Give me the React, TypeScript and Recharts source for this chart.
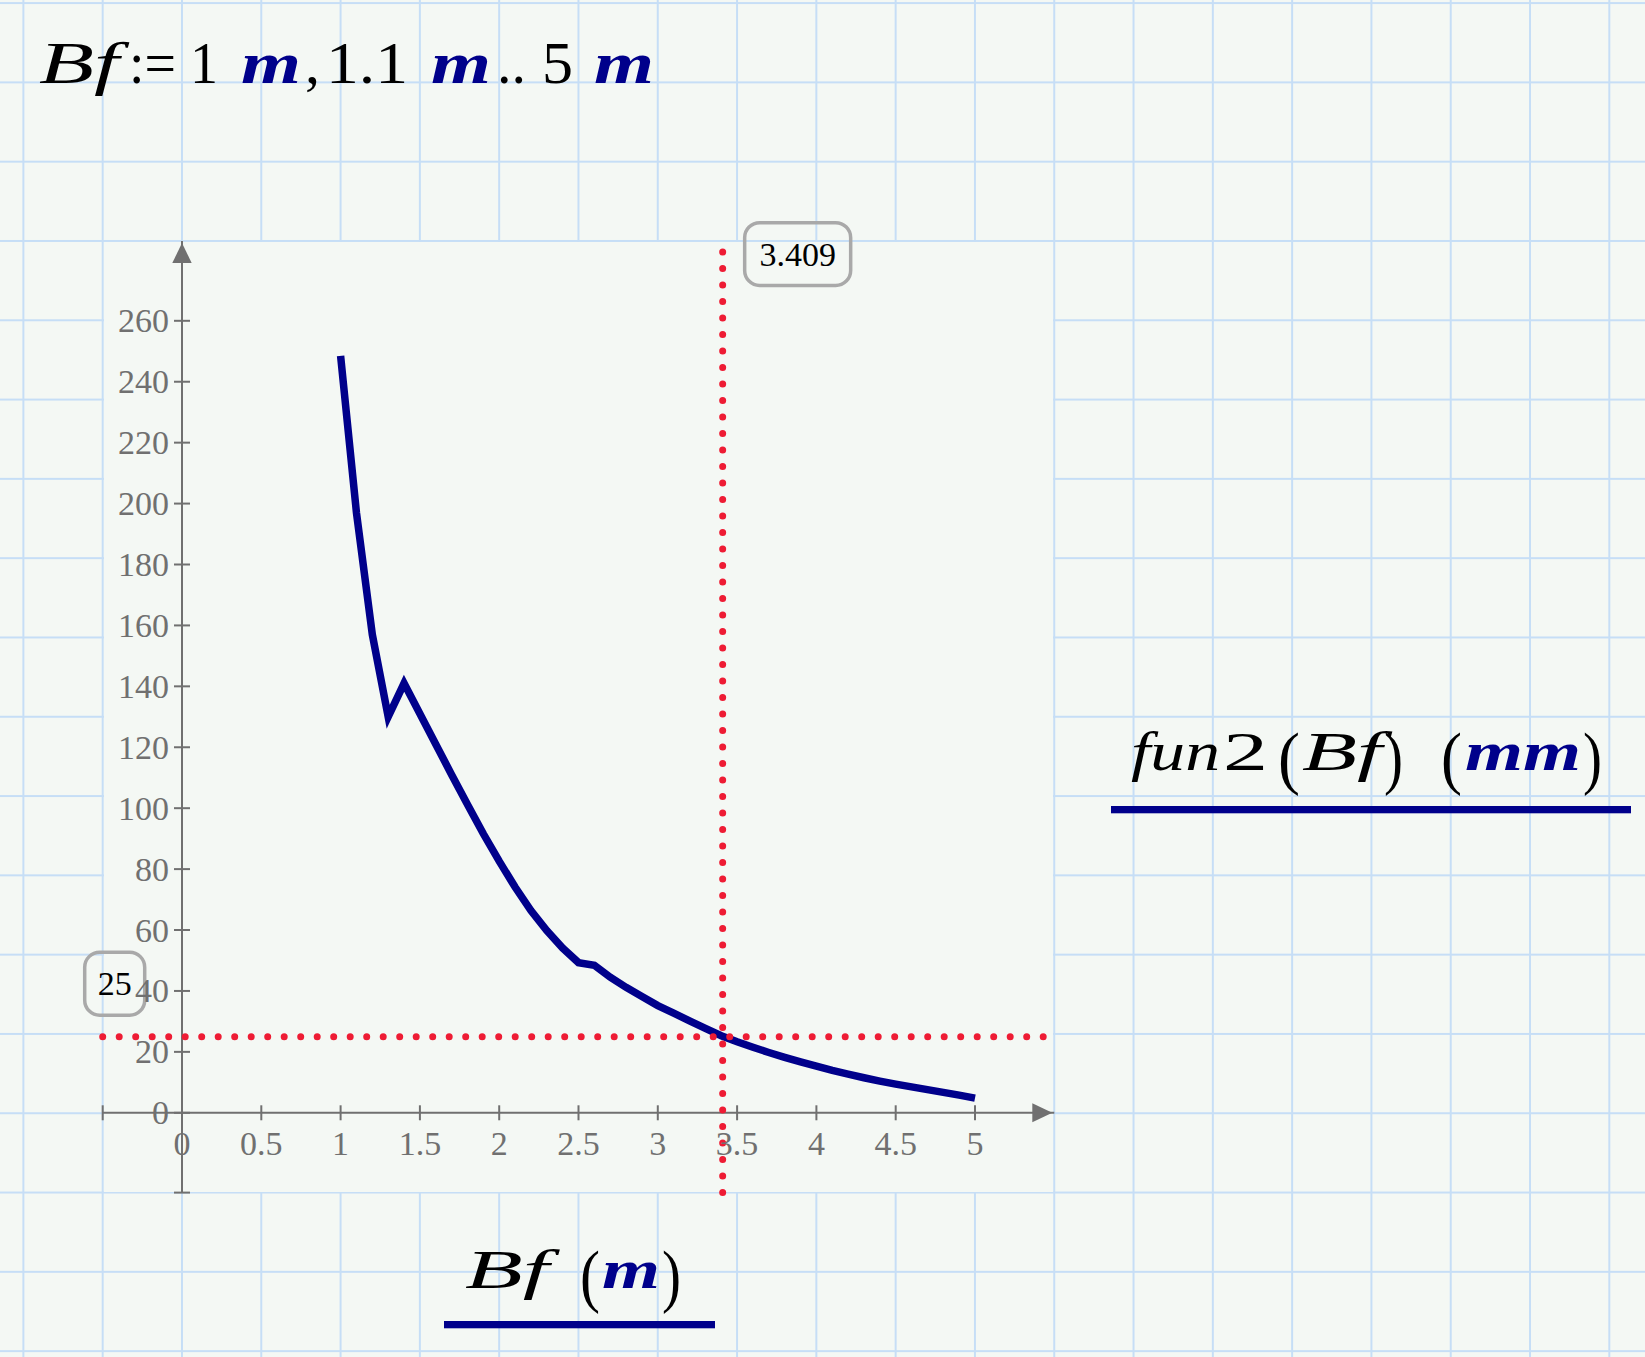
import React from 'react';
import { LineChart, Line, XAxis, YAxis, ReferenceLine, ReferenceDot } from 'recharts';

// ---- data ----
const bfValues = [
  1.0, 1.1, 1.2, 1.3, 1.4, 1.5, 1.6, 1.7, 1.8, 1.9,
  2.0, 2.1, 2.2, 2.3, 2.4, 2.5, 2.6, 2.7, 2.8, 2.9,
  3.0, 3.1, 3.2, 3.3, 3.4, 3.5, 3.6, 3.7, 3.8, 3.9,
  4.0, 4.1, 4.2, 4.3, 4.4, 4.5, 4.6, 4.7, 4.8, 4.9, 5.0,
];
const fun2Values = [
  248.5, 197, 157, 130, 141, 131, 121, 111, 101.2, 91.6,
  82.6, 74.1, 66.4, 59.8, 54.1, 49.3, 48.4, 44.5, 41.2, 38.2,
  35.2, 32.7, 30.2, 27.7, 25.3, 23.3, 21.5, 19.8, 18.2, 16.7,
  15.3, 13.9, 12.7, 11.5, 10.4, 9.4, 8.5, 7.6, 6.7, 5.8, 4.8,
];
const xTicks = [-0.5, 0, 0.5, 1, 1.5, 2, 2.5, 3, 3.5, 4, 4.5, 5];
const yTicks = [-26.2, 0, 20, 40, 60, 80, 100, 120, 140, 160, 180, 200, 220, 240, 260];
const xDomain: [number, number] = [-0.5, 5.5];
const yDomain: [number, number] = [-26.2, 286.2];
const markerX = 3.409;
const markerY = 25;

const data = bfValues.map((x, i) => ({ x, y: fun2Values[i] }));

// ---- layout / style ----
const W = 1645;
const H = 1357;
const PLOT_L = 102.7;
const PLOT_T = 241;
const PLOT_SIZE = 951.6;
const CELL = 79.3;
const BG = '#f4f8f4';
const GRID = '#c6def6';
const AXIS = '#707070';
const NAVY = '#00008b';
const RED = '#ee1c34';
const FONT = '"Liberation Serif", "Times New Roman", serif';

const xZeroOffset = (PLOT_SIZE * (0 - xDomain[0])) / (xDomain[1] - xDomain[0]);
const yZeroOffset = (PLOT_SIZE * (0 - yDomain[0])) / (yDomain[1] - yDomain[0]);

const renderXTick = (props: any) => {
  const { x, y, payload } = props;
  const yz = y - yZeroOffset;
  const isEnd = payload.value === xDomain[0];
  return (
    <g>
      <line x1={x} x2={x} y1={yz - 7.5} y2={yz + 7.5} stroke={AXIS} strokeWidth={2} />
      {!isEnd && (
        <text x={x} y={yz + 42.5} textAnchor="middle" fontFamily={FONT} fontSize={34} fill={AXIS}>
          {String(payload.value)}
        </text>
      )}
    </g>
  );
};

const renderYTick = (props: any) => {
  const { x, y, payload } = props;
  const xz = x + xZeroOffset;
  const isEnd = payload.value === yDomain[0];
  return (
    <g>
      <line x1={xz - 8} x2={xz + 8} y1={y} y2={y} stroke={AXIS} strokeWidth={2} />
      {!isEnd && (
        <text x={xz - 13} y={y + 11.5} textAnchor="end" fontFamily={FONT} fontSize={34} fill={AXIS}>
          {String(payload.value)}
        </text>
      )}
    </g>
  );
};

const XArrow = (props: any) => {
  const { cx, cy } = props;
  return <polygon points={`${cx - 2},${cy} ${cx - 22},${cy - 9.5} ${cx - 22},${cy + 9.5}`} fill={AXIS} />;
};
const YArrow = (props: any) => {
  const { cx, cy } = props;
  return <polygon points={`${cx},${cy + 2} ${cx - 9.7},${cy + 22} ${cx + 9.7},${cy + 22}`} fill={AXIS} />;
};

const markerXLabel = (props: any) => {
  const vb = props.viewBox || {};
  const lx = vb.x ?? 0;
  const top = vb.y ?? PLOT_T;
  return (
    <g>
      <rect x={lx + 22} y={top - 18.3} width={106} height={62.7} rx={15} ry={15} fill="none" stroke="#a9a9a9" strokeWidth={3.5} />
      <text x={lx + 75} y={top + 24.5} textAnchor="middle" fontFamily={FONT} fontSize={34} fill="#000">
        {markerX.toFixed(3)}
      </text>
    </g>
  );
};

const markerYLabel = (props: any) => {
  const vb = props.viewBox || {};
  const left = vb.x ?? PLOT_L;
  const ly = vb.y ?? 0;
  return (
    <g>
      <rect x={left - 18} y={ly - 84.4} width={60} height={63} rx={15} ry={15} fill="none" stroke="#a9a9a9" strokeWidth={3.5} />
      <text x={left + 12} y={ly - 41.5} textAnchor="middle" fontFamily={FONT} fontSize={34} fill="#000">
        {String(markerY)}
      </text>
    </g>
  );
};

type TProps = {
  x: number; y: number; w: number; size: number;
  italic?: boolean; bold?: boolean; color?: string; children: React.ReactNode;
};
const T = ({ x, y, w, size, italic, bold, color, children }: TProps) => (
  <text
    x={x}
    y={y}
    fontFamily={FONT}
    fontSize={size}
    fontStyle={italic ? 'italic' : 'normal'}
    fontWeight={bold ? 'bold' : 'normal'}
    fill={color || '#000'}
    textLength={w}
    lengthAdjust="spacingAndGlyphs"
  >
    {children}
  </text>
);

export default function App() {
  return (
    <div
      style={{
        position: 'absolute',
        left: 0,
        top: 0,
        width: W,
        height: H,
        overflow: 'hidden',
        backgroundColor: BG,
        backgroundImage: `linear-gradient(to right, ${GRID} 0px, ${GRID} 2px, transparent 2px), linear-gradient(to bottom, ${GRID} 0px, ${GRID} 2px, transparent 2px)`,
        backgroundSize: `${CELL}px ${CELL}px`,
        backgroundPosition: `${PLOT_L - 1 - CELL}px ${PLOT_T - 1 - 3 * CELL}px`,
      }}
    >
      <div
        style={{
          position: 'absolute',
          left: PLOT_L + 1,
          top: PLOT_T + 1,
          width: PLOT_SIZE - 2,
          height: PLOT_SIZE - 2,
          background: BG,
        }}
      />
      <div style={{ position: 'absolute', left: 0, top: 0 }}>
        <LineChart
          width={W}
          height={H}
          data={data}
          margin={{
            top: PLOT_T,
            left: PLOT_L - 1,
            right: W - PLOT_L - PLOT_SIZE,
            bottom: H - PLOT_T - PLOT_SIZE - 1,
          }}
        >
          <XAxis
            type="number"
            dataKey="x"
            domain={xDomain}
            ticks={xTicks}
            interval={0}
            allowDataOverflow
            height={1}
            axisLine={false}
            tickLine={false}
            tickSize={0}
            tickMargin={0}
            tick={renderXTick}
          />
          <YAxis
            type="number"
            domain={yDomain}
            ticks={yTicks}
            interval={0}
            allowDataOverflow
            width={1}
            axisLine={false}
            tickLine={false}
            tickSize={0}
            tickMargin={0}
            tick={renderYTick}
          />
          <ReferenceLine y={0} stroke={AXIS} strokeWidth={2} />
          <ReferenceLine x={0} stroke={AXIS} strokeWidth={2} />
          <ReferenceDot x={xDomain[1]} y={0} shape={XArrow} />
          <ReferenceDot x={0} y={yDomain[1]} shape={YArrow} />
          <Line
            type="linear"
            dataKey="y"
            stroke={NAVY}
            strokeWidth={7.5}
            dot={false}
            activeDot={false}
            isAnimationActive={false}
          />
          <ReferenceLine
            x={markerX}
            stroke={RED}
            strokeWidth={7}
            strokeDasharray="0 16.5"
            strokeLinecap="round"
            label={markerXLabel}
          />
          <ReferenceLine
            y={markerY}
            stroke={RED}
            strokeWidth={7}
            strokeDasharray="0 16.5"
            strokeLinecap="round"
            label={markerYLabel}
          />
        </LineChart>
      </div>
      <svg width={W} height={H} style={{ position: 'absolute', left: 0, top: 0, pointerEvents: 'none' }}>
        {/* title: Bf := 1 m, 1.1 m..5 m */}
        <T x={39} y={83} w={80} size={60} italic>Bf</T>
        <T x={129} y={83} w={47} size={60}>:=</T>
        <T x={190} y={83} w={28} size={60}>1</T>
        <T x={241} y={83} w={60} size={60} italic bold color={NAVY}>m</T>
        <T x={305} y={83} w={15} size={60}>,</T>
        <T x={326} y={83} w={82} size={60}>1.1</T>
        <T x={431} y={83} w={60} size={60} italic bold color={NAVY}>m</T>
        <T x={497} y={83} w={29} size={60}>..</T>
        <T x={542} y={83} w={31} size={60}>5</T>
        <T x={594} y={83} w={60} size={60} italic bold color={NAVY}>m</T>

        {/* y label: fun2(Bf) (mm) */}
        <T x={1131} y={770} w={89} size={54} italic>fun</T>
        <T x={1223} y={770} w={45} size={54}>2</T>
        <T x={1278} y={781} w={22} size={70}>(</T>
        <T x={1302} y={770} w={80} size={54} italic>Bf</T>
        <T x={1384} y={781} w={19} size={70}>)</T>
        <T x={1441} y={781} w={21} size={70}>(</T>
        <T x={1465} y={770} w={116} size={54} italic bold color={NAVY}>mm</T>
        <T x={1583} y={781} w={19} size={70}>)</T>
        <rect x={1111} y={806} width={520} height={7.3} fill={NAVY} />

        {/* x label: Bf (m) */}
        <T x={465} y={1288} w={84} size={54} italic>Bf</T>
        <T x={580} y={1299} w={20} size={70}>(</T>
        <T x={602} y={1288} w={58} size={54} italic bold color={NAVY}>m</T>
        <T x={662} y={1299} w={19} size={70}>)</T>
        <rect x={444} y={1321} width={271} height={7.3} fill={NAVY} />
      </svg>
    </div>
  );
}
